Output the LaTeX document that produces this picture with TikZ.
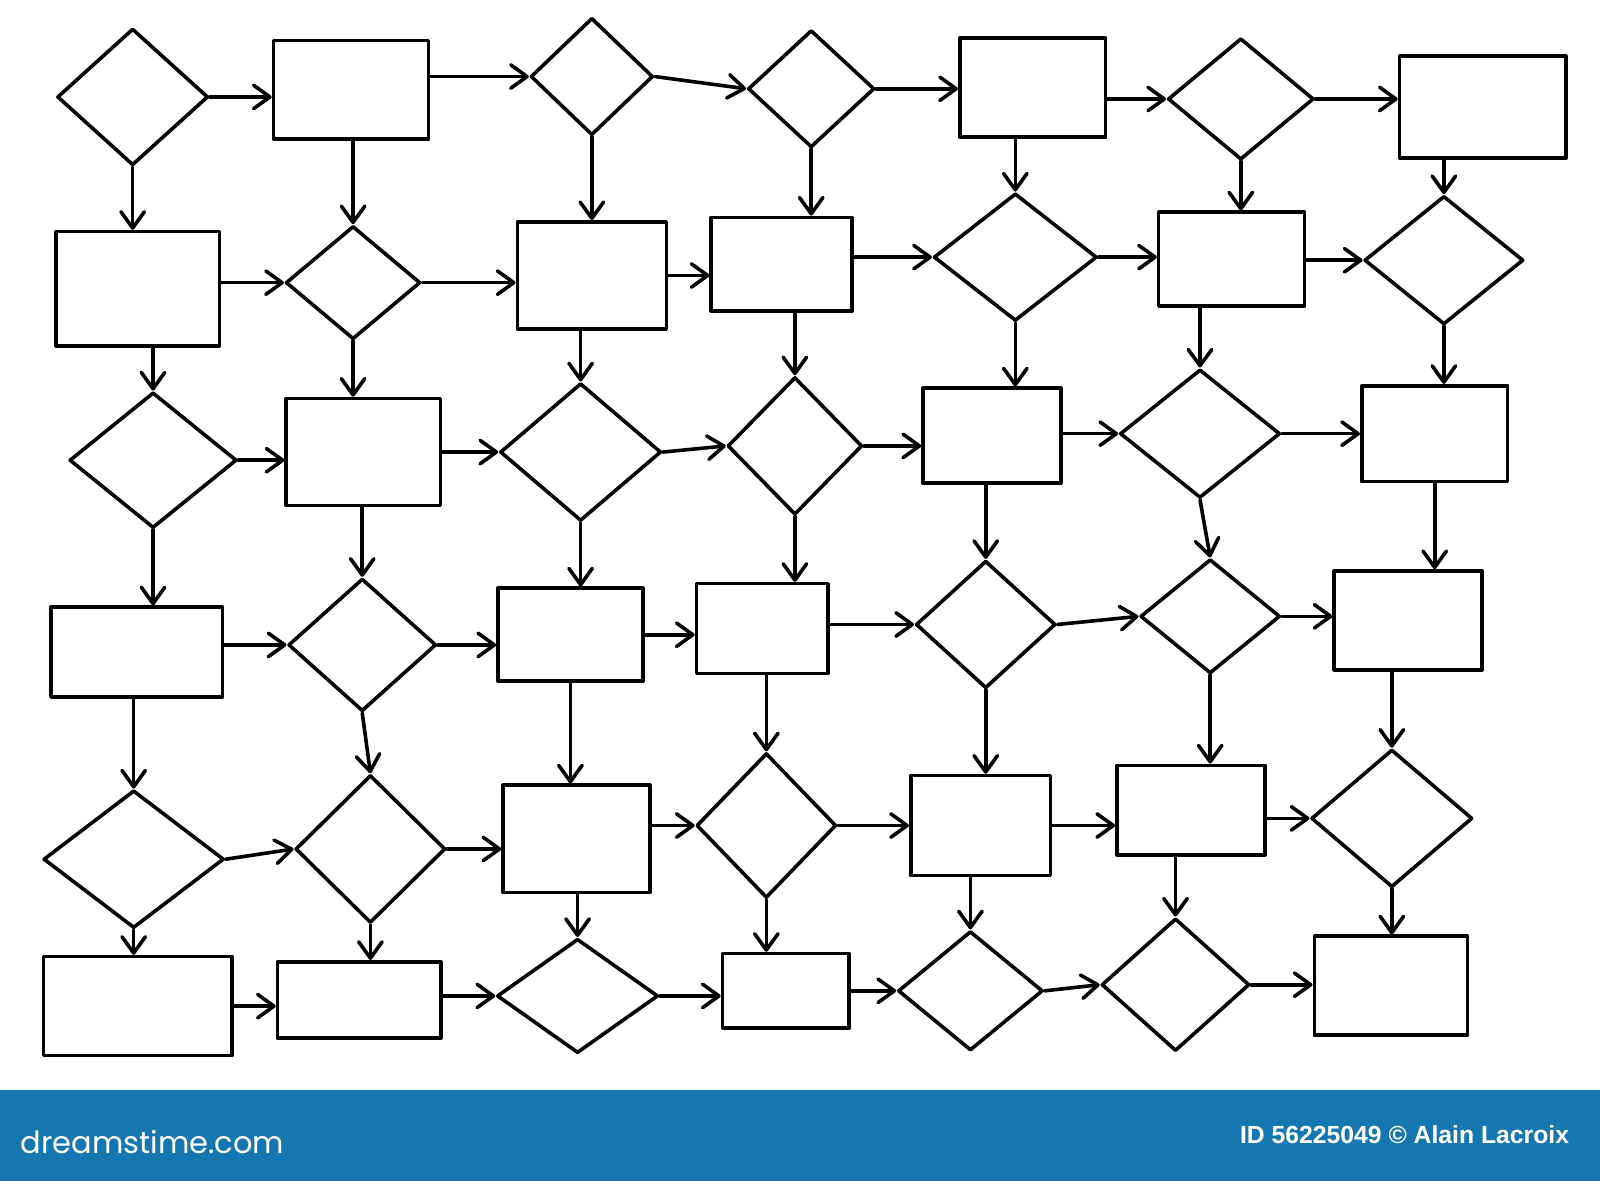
\documentclass[tikz,border=0pt]{standalone}
\usepackage{fontspec}
\usepackage{tikz}
\usetikzlibrary{arrows.meta, shapes.geometric}
\newfontfamily\logofont{Poppins}
\newfontfamily\creditfont{Liberation Sans}
\definecolor{footblue}{RGB}{22,119,176}
\tikzstyle{process} = [rectangle, draw=black, line width=2pt, line join=round, inner sep=0pt]
\tikzstyle{decision} = [diamond, draw=black, line width=2pt, line join=round, inner sep=0pt]
\tikzstyle{arrow} = [line width=2pt, line cap=round, -{Straight Barb[length=3.2mm, width=4.6mm, line cap=round, line join=round]}]

\begin{document}
\begin{tikzpicture}[x=0.02cm, y=-0.02cm]
    \fill [white] (0,0) rectangle (1568,1157);
    \useasboundingbox (0,0) rectangle (1568,1157);
    % row a
    \node (a1) [decision, minimum width=2.96cm, minimum height=2.68cm] at (130,95) {};
    \node (a2) [process, minimum width=3.04cm, minimum height=1.94cm] at (344,88) {};
    \node (a3) [decision, minimum width=2.4cm, minimum height=2.3cm] at (580,75) {};
    \node (a4) [decision, minimum width=2.48cm, minimum height=2.3cm] at (795,87) {};
    \node (a5) [process, minimum width=2.86cm, minimum height=1.94cm] at (1012,86) {};
    \node (a6) [decision, minimum width=2.86cm, minimum height=2.38cm] at (1216,97) {};
    \node (a7) [process, minimum width=3.26cm, minimum height=2.0cm] at (1453,105) {};
    % row b
    \node (b1) [process, minimum width=3.2cm, minimum height=2.24cm] at (135,283) {};
    \node (b2) [decision, minimum width=2.64cm, minimum height=2.22cm] at (346,277) {};
    \node (b3) [process, minimum width=2.92cm, minimum height=2.1cm] at (580,270) {};
    \node (b4) [process, minimum width=2.76cm, minimum height=1.84cm] at (766,259) {};
    \node (b5) [decision, minimum width=3.2cm, minimum height=2.5cm] at (995,252) {};
    \node (b6) [process, minimum width=2.86cm, minimum height=1.84cm] at (1207,254) {};
    \node (b7) [decision, minimum width=3.12cm, minimum height=2.52cm] at (1415,255) {};
    % row c
    \node (c1) [decision, minimum width=3.28cm, minimum height=2.66cm] at (150,451) {};
    \node (c2) [process, minimum width=3.02cm, minimum height=2.1cm] at (356,443) {};
    \node (c3) [decision, minimum width=3.16cm, minimum height=2.7cm] at (569,443) {};
    \node (c4) [decision, minimum width=2.64cm, minimum height=2.7cm] at (779,437) {};
    \node (c5) [process, minimum width=2.7cm, minimum height=1.86cm] at (972,427) {};
    \node (c6) [decision, minimum width=3.14cm, minimum height=2.52cm] at (1176,425) {};
    \node (c7) [process, minimum width=2.86cm, minimum height=1.88cm] at (1406,425) {};
    % row d
    \node (d1) [process, minimum width=3.36cm, minimum height=1.76cm] at (134,639) {};
    \node (d2) [decision, minimum width=2.9cm, minimum height=2.6cm] at (355,632) {};
    \node (d3) [process, minimum width=2.84cm, minimum height=1.82cm] at (559,622) {};
    \node (d4) [process, minimum width=2.58cm, minimum height=1.76cm] at (747,616) {};
    \node (d5) [decision, minimum width=2.74cm, minimum height=2.5cm] at (966,612) {};
    \node (d6) [decision, minimum width=2.74cm, minimum height=2.24cm] at (1186,604) {};
    \node (d7) [process, minimum width=2.9cm, minimum height=1.94cm] at (1380,608) {};
    % row e
    \node (e1) [decision, minimum width=3.54cm, minimum height=2.7cm] at (131,842) {};
    \node (e2) [decision, minimum width=2.94cm, minimum height=2.9cm] at (363,832) {};
    \node (e3) [process, minimum width=2.88cm, minimum height=2.1cm] at (565,822) {};
    \node (e4) [decision, minimum width=2.74cm, minimum height=2.84cm] at (751,809) {};
    \node (e5) [process, minimum width=2.74cm, minimum height=1.96cm] at (961,809) {};
    \node (e6) [process, minimum width=2.9cm, minimum height=1.76cm] at (1167,794) {};
    \node (e7) [decision, minimum width=3.16cm, minimum height=2.7cm] at (1364,802) {};
    % row f
    \node (f1) [process, minimum width=3.7cm, minimum height=1.94cm] at (135,986) {};
    \node (f2) [process, minimum width=3.2cm, minimum height=1.5cm] at (352,980) {};
    \node (f3) [decision, minimum width=3.16cm, minimum height=2.24cm] at (566,976) {};
    \node (f4) [process, minimum width=2.48cm, minimum height=1.46cm] at (770,971) {};
    \node (f5) [decision, minimum width=2.84cm, minimum height=2.34cm] at (951,971) {};
    \node (f6) [decision, minimum width=2.9cm, minimum height=2.6cm] at (1152,965) {};
    \node (f7) [process, minimum width=3.0cm, minimum height=1.94cm] at (1363,966) {};
    % arrows along the rows (f: straight from the first, s: straight into the second, b: tip to tip)
    \foreach \p/\q/\k in {a1/a2/f, a2/a3/s, a3/a4/b, a4/a5/f, a5/a6/s, a6/a7/f,
                          b1/b2/s, b2/b3/f, b3/b4/f, b4/b5/s, b5/b6/f, b6/b7/s,
                          c1/c2/f, c2/c3/s, c3/c4/b, c4/c5/f, c5/c6/s, c6/c7/f,
                          d1/d2/s, d2/d3/f, d3/d4/f, d4/d5/s, d5/d6/b, d6/d7/f,
                          e1/e2/b, e2/e3/f, e3/e4/s, e4/e5/f, e5/e6/f, e6/e7/s,
                          f1/f2/f, f2/f3/s, f3/f4/f, f4/f5/s, f5/f6/b, f6/f7/f}{
        \if f\k \draw [arrow] (\p.east) -- (\p.east -| \q.west); \fi
        \if s\k \draw [arrow] (\q.west -| \p.east) -- (\q.west); \fi
        \if b\k \draw [arrow] (\p.east) -- (\q.west); \fi
    }
    % arrows down the columns
    \foreach \p/\q/\k in {a1/b1/f, a2/b2/s, a3/b3/f, a4/b4/f, a5/b5/s, a6/b6/f, a7/b7/s,
                          b1/c1/s, b2/c2/f, b3/c3/s, b4/c4/s, b5/c5/f, b6/c6/s, b7/c7/f,
                          c1/d1/f, c2/d2/s, c3/d3/f, c4/d4/f, c5/d5/s, c6/d6/b, c7/d7/f,
                          d1/e1/s, d2/e2/b, d3/e3/f, d4/e4/s, d5/e5/f, d6/e6/f, d7/e7/s,
                          e1/f1/f, e2/f2/f, e3/f3/s, e4/f4/f, e5/f5/s, e6/f6/s, e7/f7/f}{
        \if f\k \draw [arrow] (\p.south) -- (\p.south |- \q.north); \fi
        \if s\k \draw [arrow] (\q.north |- \p.south) -- (\q.north); \fi
        \if b\k \draw [arrow] (\p.south) -- (\q.north); \fi
    }
    % footer bar
    \fill [footblue] (0,1068) rectangle (1568,1157);
    \node (site) [anchor=base west, text=white, inner sep=0pt] at (20,1130) {\logofont\fontsize{17}{18}\selectfont dreamstime.com};
    \node (credit) [anchor=base east, text=white, inner sep=0pt] at (1538,1121) {\creditfont\bfseries\fontsize{13.8}{15}\selectfont ID 56225049 © Alain Lacroix};
\end{tikzpicture}
\end{document}
